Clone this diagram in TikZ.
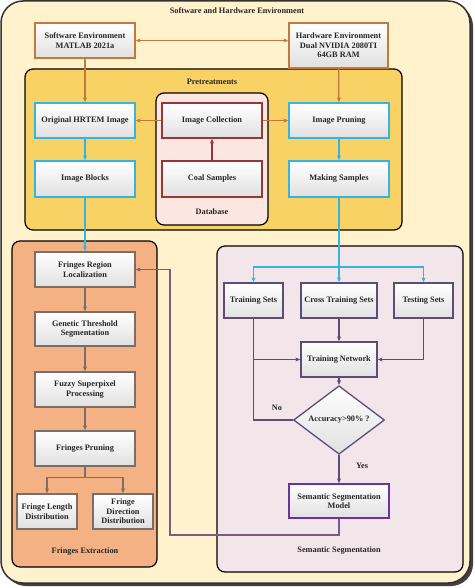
\documentclass[tikz,border=0pt]{standalone}
\usepackage{fontspec}
\setmainfont{Liberation Serif}
\usetikzlibrary{arrows.meta,shapes.geometric}
\definecolor{cream}{HTML}{FFF2CC}
\definecolor{goldc}{HTML}{F9D266}
\definecolor{dbc}{HTML}{FCE6E2}
\definecolor{salmc}{HTML}{F4B183}
\definecolor{pinkc}{HTML}{F3E6EA}
\definecolor{cyanc}{HTML}{35B4DC}
\definecolor{brownc}{HTML}{C27A3A}
\definecolor{redc}{HTML}{953735}
\definecolor{grayc}{HTML}{7A6E66}
\definecolor{purc}{HTML}{5E4C78}
\definecolor{modc}{HTML}{7030A0}
\definecolor{backc}{HTML}{7D5A86}
\tikzset{
  box/.style={rectangle, draw, line width=1.3pt, top color=white, bottom color=black!12,
    align=center, inner sep=1pt, font=\bfseries\fontsize{8.3}{9.6}\selectfont, text=black!85},
  wh/.style 2 args={minimum width=#1pt, minimum height=#2pt},
  brn/.style={box, draw=brownc},
  blu/.style={box, draw=cyanc},
  dred/.style={box, draw=redc},
  gry/.style={box, draw=grayc},
  pur/.style={box, draw=purc},
  grp/.style={draw=black, line width=1.2pt, rounded corners=8pt},
  ttl/.style={font=\bfseries\fontsize{8.3}{9.6}\selectfont, text=black!85},
  arr/.style={line width=1.3pt, -{Stealth[length=5pt,width=4pt]}},
}

\begin{document}
\begin{tikzpicture}[x=1pt,y=-1pt]
\useasboundingbox (0,0) rectangle (474,588);
% frames
\fill[black!75, rounded corners=22pt] (4,4) rectangle (473,586);
\draw[fill=cream, draw=black!80, line width=1.5pt, rounded corners=22pt] (1,1) rectangle (470,583);
\draw[grp, fill=goldc] (25,69) rectangle (402,230);
\draw[grp, fill=dbc] (156,93) rectangle (268,225);
\draw[grp, fill=salmc] (12,241) rectangle (157,567);
\draw[grp, fill=pinkc] (217,246) rectangle (463,572);
\node[ttl] (tenv) at (237,11) {Software and Hardware Environment};
\node[ttl] (tpre) at (212,82) {Pretreatments};
\node[ttl] (tdb) at (212,212) {Database};
\node[ttl] (tfe) at (85,552) {Fringes Extraction};
\node[ttl] (tss) at (339,551) {Semantic Segmentation};

% environment
\node[brn, wh={100}{35}] (sw) at (85,40.5) {Software Environment\\MATLAB 2021a};
\node[brn, wh={99}{45}] (hw) at (338.5,45.5) {Hardware Environment\\Dual NVIDIA 2080TI\\64GB RAM};

% pretreatments
\node[blu, wh={100}{35}] (orig) at (85,120.5) {Original HRTEM Image};
\node[blu, wh={100}{36}] (blocks) at (85,179) {Image Blocks};
\node[dred, wh={100}{35}] (coll) at (212,120.5) {Image Collection};
\node[dred, wh={100}{36}] (coal) at (212,179) {Coal Samples};
\node[blu, wh={100}{35}] (prun) at (339,120.5) {Image Pruning};
\node[blu, wh={100}{36}] (mksmp) at (339,179) {Making Samples};

% fringes extraction
\node[gry, wh={100}{35}] (frl) at (85,269.5) {Fringes Region\\Localization};
\node[gry, wh={100}{34}] (gts) at (85,329) {Genetic Threshold\\Segmentation};
\node[gry, wh={100}{35}] (fsp) at (85,389.5) {Fuzzy Superpixel\\Processing};
\node[gry, wh={100}{35}] (fp) at (85,448.5) {Fringes Pruning};
\node[gry, wh={60}{35}] (fld) at (47,511.5) {Fringe Length\\Distribution};
\node[gry, wh={60}{35}] (fdd) at (123,511.5) {Fringe\\Direction\\Distribution};

% semantic segmentation
\node[pur, wh={59}{35}] (trs) at (253.5,300.5) {Training Sets};
\node[pur, wh={76}{35}] (cts) at (339,300.5) {Cross Training Sets};
\node[pur, wh={59}{35}] (tes) at (423.5,300.5) {Testing Sets};
\node[pur, wh={76}{35}] (net) at (339,359.5) {Training Network};
\node[pur, diamond, inner sep=0pt, wh={91}{53}] (acc) at (339,420) {Accuracy>90\% ?};
\node[box, draw=modc, wh={100}{34}] (model) at (339,501) {Semantic Segmentation\\Model};
\node[ttl] (no) at (277,408) {No};
\node[ttl] (yes) at (362,466) {Yes};
\coordinate (split) at (339,267);
\coordinate (fb) at (170,535);

% connectors
\draw[arr, brownc, {Stealth[length=5pt,width=4pt]}-{Stealth[length=5pt,width=4pt]}] (sw) -- (sw -| hw.west);
\draw[arr, brownc] (sw) -- (orig);
\draw[arr, brownc] (hw) -- (prun);
\draw[arr, brownc] (coll) -- (orig);
\draw[arr, brownc] (coll) -- (prun);
\draw[arr, redc] (coal) -- (coll);
\draw[arr, cyanc] (orig) -- (blocks);
\draw[arr, cyanc] (prun) -- (mksmp);
\draw[arr, cyanc] (blocks) -- (frl);
\draw[arr, cyanc] (mksmp) -- (cts);
\draw[arr, cyanc] (split) -| (trs);
\draw[arr, cyanc] (split) -| (tes);
\draw[arr, grayc] (frl) -- (gts);
\draw[arr, grayc] (gts) -- (fsp);
\draw[arr, grayc] (fsp) -- (fp);
\draw[arr, grayc] (fp.south) -- ++(0,11) -| (fld);
\draw[arr, grayc] (fp.south) -- ++(0,11) -| (fdd);
\draw[arr, purc] (cts) -- (net);
\draw[arr, purc] (trs.south) |- (net.west);
\draw[arr, purc] (tes.south) |- (net.east);
\draw[line width=1.3pt, purc] (acc.west) -| (trs.south);
\draw[arr, purc] (net) -- (acc);
\draw[arr, purc] (acc) -- (model);
\draw[arr, backc] (model.south) |- (fb) |- (frl.east);
\end{tikzpicture}
\end{document}
